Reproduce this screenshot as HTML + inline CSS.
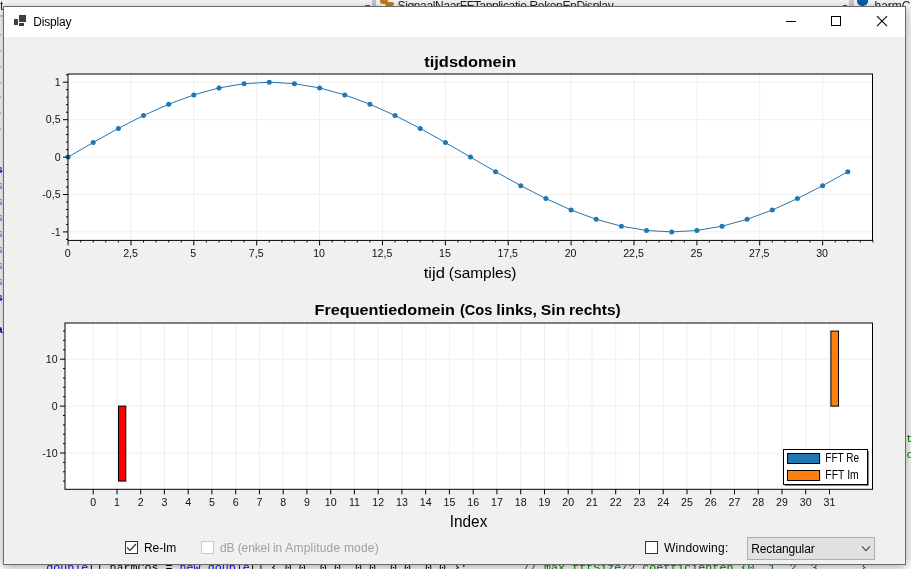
<!DOCTYPE html>
<html lang="nl"><head><meta charset="utf-8"><title>Display</title>
<style>
html,body{margin:0;padding:0}
body{width:911px;height:569px;overflow:hidden;position:relative;background:#fff;font-family:"Liberation Sans",sans-serif;font-size:12px;color:#000}
.abs{position:absolute}
#bg-top{left:0;top:0;width:911px;height:7px;background:linear-gradient(#f6f6f7,#fdfdfd);overflow:hidden}
#bg-top span{position:absolute;white-space:nowrap;font-size:12px;color:#1e1e1e}
#bg-left{left:0;top:7px;width:4px;height:562px;background:#fff;overflow:hidden;font-family:"Liberation Mono",monospace;font-size:11.7px;line-height:14px}
#bg-right{left:905px;top:7px;width:6px;height:562px;background:#f9f9fb;overflow:hidden;font-family:"Liberation Mono",monospace;font-size:11.7px;line-height:14px;color:#008000;white-space:nowrap}
#bg-bottom{left:0;top:560px;width:911px;height:9px;background:#fff;overflow:hidden;font-family:"Liberation Mono",monospace;font-size:11.7px;line-height:14px;white-space:nowrap}
#win{left:3px;top:6px;width:903px;height:559px;box-sizing:border-box;border:1px solid #6a6a6a;background:#f0f0f0;box-shadow:0 2px 10px rgba(0,0,0,.36)}
#titlebar{left:0;top:0;width:901px;height:30px;background:#fff}
#title{left:29.3px;top:8px;font-size:12px;line-height:14px;color:#000;white-space:nowrap;letter-spacing:-.18px}
.cb{width:11px;height:11px;border:1px solid #333;background:#fff}
.cb.dis{border-color:#ccc;background:#fff}
.lbl{white-space:nowrap;font-size:12px;line-height:14px}
#combo{left:743px;top:530px;width:126px;height:21px;border:1px solid #adadad;background:#e1e1e1}
#combo span{position:absolute;left:3.2px;top:4px;font-size:12px;line-height:14px;letter-spacing:-.12px}
</style></head><body>

<div id="bg-top" class="abs"><span style="left:397.5px;top:-1px;letter-spacing:-.35px">SignaalNaarFFTapplicatie.RekenEnDisplay</span><span style="left:874.5px;top:-1px">harmCos</span><i class="abs" style="left:372px;top:0;width:4px;height:7px;background:#c4c6d4"></i><i class="abs" style="left:380px;top:0;width:8px;height:4px;background:#c27d1a;border-radius:0 0 3px 3px"></i><i class="abs" style="left:385px;top:2px;width:9px;height:4px;background:#c27d1a;border-radius:2px"></i><i class="abs" style="left:849px;top:0;width:5px;height:7px;background:#c9cadb"></i><i class="abs" style="left:857px;top:0;width:10.5px;height:5.5px;background:#0b5cad;border-radius:0 0 5px 5px"></i><i class="abs" style="left:364.5px;top:5px;width:5px;height:1px;background:#555"></i><i class="abs" style="left:842.5px;top:5px;width:4px;height:1px;background:#555"></i></div>
<div id="bg-left" class="abs">
<span class="abs" style="left:-4.5px;top:24px;color:#8a8a8a">*</span>
<span class="abs" style="left:-4.5px;top:40px;color:#8a8a8a">*</span>
<span class="abs" style="left:-4.5px;top:56px;color:#8a8a8a">*</span>
<span class="abs" style="left:-4.5px;top:72px;color:#8a8a8a">*</span>
<span class="abs" style="left:-4.5px;top:86px;color:#8a8a8a">*</span>
<span class="abs" style="left:-4.5px;top:102px;color:#8a8a8a">*</span>
<span class="abs" style="left:-4.5px;top:118px;color:#8a8a8a">*</span>
<span class="abs" style="left:-4px;top:156px;color:#0000c8;font-weight:bold">s</span>
<span class="abs" style="left:-4px;top:172px;color:#5a6fd8;font-weight:normal">s</span>
<span class="abs" style="left:-4px;top:188px;color:#5a6fd8;font-weight:normal">s</span>
<span class="abs" style="left:-4px;top:204px;color:#5a6fd8;font-weight:normal">s</span>
<span class="abs" style="left:-4px;top:220px;color:#5a6fd8;font-weight:normal">s</span>
<span class="abs" style="left:-4px;top:236px;color:#5a6fd8;font-weight:normal">s</span>
<span class="abs" style="left:-4px;top:252px;color:#5a6fd8;font-weight:normal">s</span>
<span class="abs" style="left:-4px;top:268px;color:#5a6fd8;font-weight:normal">s</span>
<span class="abs" style="left:-4px;top:284px;color:#0000c8;font-weight:bold">s</span>
<span class="abs" style="left:-4px;top:316px;color:#0000c8;font-weight:bold">a</span>
</div>
<div class="abs" style="left:0;top:0;width:3px;height:12px;overflow:hidden"><span class="abs" style="left:0;top:-1px;font-size:12px;line-height:14px;color:#1a1a1a">t</span></div>
<i class="abs" style="left:0;top:15px;width:3px;height:2px;background:#cfcfdd"></i>
<div id="bg-right" class="abs"><span class="abs" style="left:-3.5px;top:424.8px;letter-spacing:-2.5px">.t</span><span class="abs" style="left:-5.5px;top:441px">ro</span></div>
<div id="bg-bottom" class="abs"><span class="abs" style="left:46.3px;top:0.5px"><span style="color:#00f">double</span>[] harmCos = <span style="color:#00f">new</span> <span style="color:#00f">double</span>[] { 0.0, 0.0, 0.0, 0.0, 0.0 };</span><span class="abs" style="left:523px;top:0.5px;color:#008000">// max fftSize/2 coefficienten {0, 1, 2, 3, ....}</span></div>
<div id="win" class="abs">
<div id="titlebar" class="abs">
<svg class="abs" style="left:0;top:0" width="901" height="30" viewBox="4 7 901 30"><g fill="#3f3f3f"><rect x="14" y="19" width="4" height="6"/><rect x="19" y="15" width="7" height="7"/><rect x="19" y="23" width="5" height="3"/></g><g stroke="#000" stroke-width="1" fill="none" shape-rendering="crispEdges"><path d="M786 21.5H796"/><rect x="831.5" y="16.5" width="9" height="9"/></g><path d="M877 16.2L887 26.2M887 16.2L877 26.2" stroke="#000" stroke-width="1.1" fill="none"/></svg>
<div id="title" class="abs">Display</div>
</div>
<svg class="abs" style="left:0;top:30px" width="901" height="527" viewBox="4 37 901 527" font-family='"Liberation Sans", sans-serif'>
<rect x="68.0" y="74.0" width="804.5" height="166.4" fill="#fff"/>
<path d="M131.0 74.0V240.4M193.8 74.0V240.4M256.7 74.0V240.4M319.6 74.0V240.4M382.5 74.0V240.4M445.4 74.0V240.4M508.2 74.0V240.4M571.1 74.0V240.4M634.0 74.0V240.4M696.9 74.0V240.4M759.7 74.0V240.4M822.6 74.0V240.4M68.0 231.9H872.5M68.0 194.5H872.5M68.0 157.1H872.5M68.0 119.7H872.5M68.0 82.2H872.5" stroke="#efefef" stroke-width="1" fill="none"/>
<polyline fill="none" stroke="#1f77b4" stroke-width="1" points="68.1,157.1 93.2,142.5 118.4,128.4 143.5,115.5 168.7,104.2 193.8,94.9 219.0,87.9 244.1,83.7 269.3,82.2 294.4,83.7 319.6,87.9 344.8,94.9 369.9,104.2 395.0,115.5 420.2,128.4 445.4,142.5 470.5,157.1 495.6,171.7 520.8,185.7 545.9,198.6 571.1,210.0 596.2,219.3 621.4,226.2 646.5,230.5 671.7,231.9 696.9,230.5 722.0,226.2 747.1,219.3 772.3,210.0 797.4,198.6 822.6,185.7 847.8,171.7"/>
<g fill="#1f77b4"><circle cx="68.1" cy="157.1" r="2.5"/><circle cx="93.2" cy="142.5" r="2.5"/><circle cx="118.4" cy="128.4" r="2.5"/><circle cx="143.5" cy="115.5" r="2.5"/><circle cx="168.7" cy="104.2" r="2.5"/><circle cx="193.8" cy="94.9" r="2.5"/><circle cx="219.0" cy="87.9" r="2.5"/><circle cx="244.1" cy="83.7" r="2.5"/><circle cx="269.3" cy="82.2" r="2.5"/><circle cx="294.4" cy="83.7" r="2.5"/><circle cx="319.6" cy="87.9" r="2.5"/><circle cx="344.8" cy="94.9" r="2.5"/><circle cx="369.9" cy="104.2" r="2.5"/><circle cx="395.0" cy="115.5" r="2.5"/><circle cx="420.2" cy="128.4" r="2.5"/><circle cx="445.4" cy="142.5" r="2.5"/><circle cx="470.5" cy="157.1" r="2.5"/><circle cx="495.6" cy="171.7" r="2.5"/><circle cx="520.8" cy="185.7" r="2.5"/><circle cx="545.9" cy="198.6" r="2.5"/><circle cx="571.1" cy="210.0" r="2.5"/><circle cx="596.2" cy="219.3" r="2.5"/><circle cx="621.4" cy="226.2" r="2.5"/><circle cx="646.5" cy="230.5" r="2.5"/><circle cx="671.7" cy="231.9" r="2.5"/><circle cx="696.9" cy="230.5" r="2.5"/><circle cx="722.0" cy="226.2" r="2.5"/><circle cx="747.1" cy="219.3" r="2.5"/><circle cx="772.3" cy="210.0" r="2.5"/><circle cx="797.4" cy="198.6" r="2.5"/><circle cx="822.6" cy="185.7" r="2.5"/><circle cx="847.8" cy="171.7" r="2.5"/></g>
<path d="M68.1 240.4v5M80.7 240.4v2M93.2 240.4v2M105.8 240.4v2M118.4 240.4v2M131.0 240.4v5M143.5 240.4v2M156.1 240.4v2M168.7 240.4v2M181.3 240.4v2M193.8 240.4v5M206.4 240.4v2M219.0 240.4v2M231.6 240.4v2M244.1 240.4v2M256.7 240.4v5M269.3 240.4v2M281.9 240.4v2M294.4 240.4v2M307.0 240.4v2M319.6 240.4v5M332.2 240.4v2M344.8 240.4v2M357.3 240.4v2M369.9 240.4v2M382.5 240.4v5M395.0 240.4v2M407.6 240.4v2M420.2 240.4v2M432.8 240.4v2M445.4 240.4v5M457.9 240.4v2M470.5 240.4v2M483.1 240.4v2M495.6 240.4v2M508.2 240.4v5M520.8 240.4v2M533.4 240.4v2M545.9 240.4v2M558.5 240.4v2M571.1 240.4v5M583.7 240.4v2M596.2 240.4v2M608.8 240.4v2M621.4 240.4v2M634.0 240.4v5M646.5 240.4v2M659.1 240.4v2M671.7 240.4v2M684.3 240.4v2M696.9 240.4v5M709.4 240.4v2M722.0 240.4v2M734.6 240.4v2M747.1 240.4v2M759.7 240.4v5M772.3 240.4v2M784.9 240.4v2M797.4 240.4v2M810.0 240.4v2M822.6 240.4v5M835.2 240.4v2M847.8 240.4v2M860.3 240.4v2M872.9 240.4v2M68.0 231.9h-5M68.0 194.5h-5M68.0 157.1h-5M68.0 119.7h-5M68.0 82.2h-5M68.0 239.4h-2M68.0 224.4h-2M68.0 216.9h-2M68.0 209.5h-2M68.0 202.0h-2M68.0 187.0h-2M68.0 179.5h-2M68.0 172.0h-2M68.0 164.6h-2M68.0 149.6h-2M68.0 142.1h-2M68.0 134.6h-2M68.0 127.1h-2M68.0 112.2h-2M68.0 104.7h-2M68.0 97.2h-2M68.0 89.7h-2M68.0 74.8h-2" stroke="#000" stroke-width="1" fill="none"/>
<rect x="68.0" y="74.0" width="804.5" height="166.4" fill="none" stroke="#000" stroke-width="1"/>
<g font-size="10.6" fill="#111" text-anchor="middle">
<text x="67.6" y="256.9">0</text>
<text x="130.5" y="256.9">2,5</text>
<text x="193.3" y="256.9">5</text>
<text x="256.2" y="256.9">7,5</text>
<text x="319.1" y="256.9">10</text>
<text x="382.0" y="256.9">12,5</text>
<text x="444.9" y="256.9">15</text>
<text x="507.7" y="256.9">17,5</text>
<text x="570.6" y="256.9">20</text>
<text x="633.5" y="256.9">22,5</text>
<text x="696.4" y="256.9">25</text>
<text x="759.2" y="256.9">27,5</text>
<text x="822.1" y="256.9">30</text>
</g>
<g font-size="10.6" fill="#111" text-anchor="end">
<text x="60.6" y="235.6">-1</text>
<text x="60.6" y="198.2">-0,5</text>
<text x="60.6" y="160.8">0</text>
<text x="60.6" y="123.4">0,5</text>
<text x="60.6" y="85.9">1</text>
</g>
<text x="424.3" y="66.8" font-size="15.5" font-weight="bold" textLength="92" lengthAdjust="spacingAndGlyphs">tijdsdomein</text>
<text y="277.6" font-size="15.5"><tspan x="423.7" textLength="21.2" lengthAdjust="spacingAndGlyphs">tijd</tspan> <tspan x="448.8" textLength="67.7" lengthAdjust="spacingAndGlyphs">(samples)</tspan></text>
<rect x="65.0" y="323.0" width="807.5" height="166.3" fill="#fff"/>
<path d="M93.2 323.0V489.3M117.0 323.0V489.3M140.7 323.0V489.3M164.4 323.0V489.3M188.2 323.0V489.3M211.9 323.0V489.3M235.7 323.0V489.3M259.4 323.0V489.3M283.2 323.0V489.3M306.9 323.0V489.3M330.7 323.0V489.3M354.4 323.0V489.3M378.2 323.0V489.3M401.9 323.0V489.3M425.7 323.0V489.3M449.4 323.0V489.3M473.2 323.0V489.3M496.9 323.0V489.3M520.7 323.0V489.3M544.5 323.0V489.3M568.2 323.0V489.3M592.0 323.0V489.3M615.7 323.0V489.3M639.5 323.0V489.3M663.2 323.0V489.3M687.0 323.0V489.3M710.7 323.0V489.3M734.5 323.0V489.3M758.2 323.0V489.3M782.0 323.0V489.3M805.7 323.0V489.3M829.5 323.0V489.3M65.0 453.0H872.5M65.0 406.1H872.5M65.0 359.2H872.5" stroke="#efefef" stroke-width="1" fill="none"/>
<rect x="118.5" y="406.1" width="7.3" height="75.0" fill="#ff0000" stroke="#000" stroke-width="1"/>
<rect x="830.9" y="331.1" width="7.6" height="75.0" fill="#ff7f0e" stroke="#000" stroke-width="1"/>
<path d="M93.2 489.3v5M117.0 489.3v5M140.7 489.3v5M164.4 489.3v5M188.2 489.3v5M211.9 489.3v5M235.7 489.3v5M259.4 489.3v5M283.2 489.3v5M306.9 489.3v5M330.7 489.3v5M354.4 489.3v5M378.2 489.3v5M401.9 489.3v5M425.7 489.3v5M449.4 489.3v5M473.2 489.3v5M496.9 489.3v5M520.7 489.3v5M544.5 489.3v5M568.2 489.3v5M592.0 489.3v5M615.7 489.3v5M639.5 489.3v5M663.2 489.3v5M687.0 489.3v5M710.7 489.3v5M734.5 489.3v5M758.2 489.3v5M782.0 489.3v5M805.7 489.3v5M829.5 489.3v5M65.0 453.0h-5M65.0 406.1h-5M65.0 359.2h-5M65.0 481.1h-2M65.0 471.8h-2M65.0 462.4h-2M65.0 443.6h-2M65.0 434.2h-2M65.0 424.9h-2M65.0 415.5h-2M65.0 396.7h-2M65.0 387.3h-2M65.0 378.0h-2M65.0 368.6h-2M65.0 349.8h-2M65.0 340.4h-2M65.0 331.1h-2" stroke="#000" stroke-width="1" fill="none"/>
<rect x="65.0" y="323.0" width="807.5" height="166.3" fill="none" stroke="#000" stroke-width="1"/>
<g font-size="10.6" fill="#111" text-anchor="middle">
<text x="93.2" y="506">0</text>
<text x="117.0" y="506">1</text>
<text x="140.7" y="506">2</text>
<text x="164.4" y="506">3</text>
<text x="188.2" y="506">4</text>
<text x="211.9" y="506">5</text>
<text x="235.7" y="506">6</text>
<text x="259.4" y="506">7</text>
<text x="283.2" y="506">8</text>
<text x="306.9" y="506">9</text>
<text x="330.7" y="506">10</text>
<text x="354.4" y="506">11</text>
<text x="378.2" y="506">12</text>
<text x="401.9" y="506">13</text>
<text x="425.7" y="506">14</text>
<text x="449.4" y="506">15</text>
<text x="473.2" y="506">16</text>
<text x="496.9" y="506">17</text>
<text x="520.7" y="506">18</text>
<text x="544.5" y="506">19</text>
<text x="568.2" y="506">20</text>
<text x="592.0" y="506">21</text>
<text x="615.7" y="506">22</text>
<text x="639.5" y="506">23</text>
<text x="663.2" y="506">24</text>
<text x="687.0" y="506">25</text>
<text x="710.7" y="506">26</text>
<text x="734.5" y="506">27</text>
<text x="758.2" y="506">28</text>
<text x="782.0" y="506">29</text>
<text x="805.7" y="506">30</text>
<text x="829.5" y="506">31</text>
</g>
<g font-size="10.6" fill="#111" text-anchor="end">
<text x="57.6" y="456.9">-10</text>
<text x="57.6" y="410.0">0</text>
<text x="57.6" y="363.1">10</text>
</g>
<text y="314.8" font-size="15.5" font-weight="bold" lengthAdjust="spacingAndGlyphs"><tspan x="314.55" textLength="140.4" lengthAdjust="spacingAndGlyphs">Frequentiedomein</tspan> <tspan x="459.96" textLength="32.4" lengthAdjust="spacingAndGlyphs">(Cos</tspan> <tspan x="496.37" textLength="40.7" lengthAdjust="spacingAndGlyphs">links,</tspan> <tspan x="540.89" textLength="24.45" lengthAdjust="spacingAndGlyphs">Sin</tspan> <tspan x="569" textLength="51.7" lengthAdjust="spacingAndGlyphs">rechts)</tspan></text>
<text x="449.75" y="526.8" font-size="16.2" textLength="37.6" lengthAdjust="spacingAndGlyphs">Index</text>
<rect x="784.8" y="450.8" width="84" height="35" fill="#000" opacity=".6"/>
<rect x="783.5" y="449.5" width="84" height="35" fill="#fff" stroke="#000" stroke-width="1"/>
<rect x="787.5" y="453.5" width="32.1" height="10" fill="#1f77b4" stroke="#000" stroke-width="1"/>
<rect x="787.5" y="470.5" width="32.1" height="10" fill="#ff7f0e" stroke="#000" stroke-width="1"/>
<text x="825.3" y="461.8" font-size="12" textLength="33.9" lengthAdjust="spacingAndGlyphs">FFT Re</text>
<text x="825.3" y="478.8" font-size="12" textLength="33.5" lengthAdjust="spacingAndGlyphs">FFT Im</text>
</svg>
<div class="abs cb" style="left:121px;top:534px"><svg width="11" height="11" viewBox="0 0 11 11"><path d="M1 5.3L4 8.4L10 2" fill="none" stroke="#2a2a2a" stroke-width="1.2"/></svg></div>
<div class="abs lbl" style="left:140px;top:533.9px;letter-spacing:-.1px">Re-Im</div>
<div class="abs cb dis" style="left:197px;top:534px"></div>
<div class="abs lbl" style="left:216px;top:533.9px;color:#a0a0a0;letter-spacing:-.11px">dB (enkel in <span style="letter-spacing:.19px">Amplitude mode)</span></div>
<div class="abs cb" style="left:641px;top:534px"></div>
<div class="abs lbl" style="left:660px;top:533.9px;letter-spacing:.25px">Windowing:</div>
<div id="combo" class="abs"><span>Rectangular</span><svg class="abs" style="left:113px;top:7px" width="12" height="8" viewBox="861 545 12 8"><path d="M862 546.4L866 550.6L870 546.4" fill="none" stroke="#444" stroke-width="1.1"/></svg></div>
</div>
</body></html>
